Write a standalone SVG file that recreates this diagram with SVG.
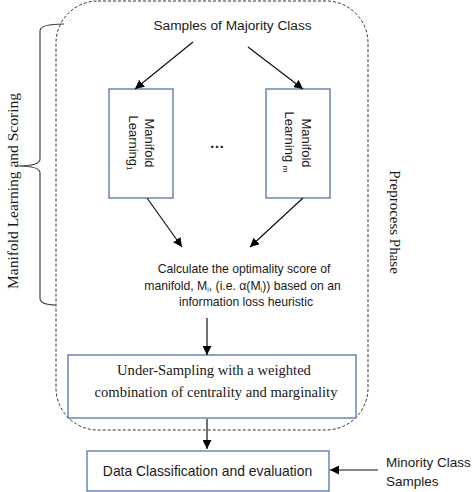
<svg xmlns="http://www.w3.org/2000/svg" width="474" height="492" viewBox="0 0 474 492">
<defs>
<marker id="ah" viewBox="0 0 10 10" refX="10" refY="5" markerWidth="9" markerHeight="9" markerUnits="userSpaceOnUse" orient="auto">
<path d="M0,0 L10,5 L0,10 z" fill="#000"/>
</marker>
<style>
.box{fill:#fff;stroke:#5572aa;stroke-width:1.3}
.sans{font-family:"Liberation Sans",Arial,sans-serif;fill:#1a1a1a}
.serif{font-family:"Liberation Serif","Times New Roman",serif;fill:#1a1a1a}
.conn{stroke:#111;stroke-width:1.2;fill:none}
</style>
</defs>
<rect width="474" height="492" fill="#fff"/>
<g id="preprocess-phase">
<rect x="56" y="1" width="312" height="429" rx="42" ry="42" fill="none" stroke="#333" stroke-width="1" stroke-dasharray="3,2"/>
<text class="serif" font-size="15" text-anchor="middle" transform="translate(390,222) rotate(90)">Preprocess Phase</text>
</g>
<g id="manifold-bracket">
<path d="M64 24 Q40 24 40 31 L40 159 Q40 166 18 166 Q40 166 40 173 L40 298 Q40 305 56 305" fill="none" stroke="#444" stroke-width="1.2"/>
<text class="serif" font-size="15.5" text-anchor="middle" transform="translate(18,191) rotate(-90)">Manifold Learning and Scoring</text>
</g>
<g id="samples-majority">
<text class="sans" x="232.5" y="30" font-size="13.7" text-anchor="middle">Samples of Majority Class</text>
</g>
<g id="manifold-1">
<rect class="box" x="109" y="89" width="64" height="109"/>
<text class="sans" font-size="13" text-anchor="middle" transform="translate(145,143) rotate(90)">Manifold</text>
<text class="sans" font-size="13" text-anchor="middle" transform="translate(129,143) rotate(90)">Learning<tspan font-size="8" dy="2">1</tspan></text>
</g>
<g id="ellipsis">
<text class="sans" x="217" y="148" font-size="15" font-weight="bold" text-anchor="middle">…</text>
</g>
<g id="manifold-m">
<rect class="box" x="266" y="89" width="64" height="109"/>
<text class="sans" font-size="13" text-anchor="middle" transform="translate(301.5,143) rotate(90)">Manifold</text>
<text class="sans" font-size="13" text-anchor="middle" transform="translate(285,142) rotate(90)">Learning <tspan font-size="8" dy="2">m</tspan></text>
</g>
<g id="optimality-score">
<text class="sans" x="244" y="273" font-size="12.2" text-anchor="middle">Calculate the optimality score of</text>
<text class="sans" x="242.5" y="290" font-size="12.2" text-anchor="middle">manifold, M<tspan font-size="7" dy="2">i</tspan><tspan dy="-2">, (i.e. α(M</tspan><tspan font-size="7" dy="2">i</tspan><tspan dy="-2">)) based on an</tspan></text>
<text class="sans" x="246" y="306" font-size="12.2" text-anchor="middle">information loss heuristic</text>
</g>
<g id="under-sampling">
<rect class="box" x="68" y="355" width="288" height="63"/>
<text class="serif" x="214" y="375" font-size="14.6" text-anchor="middle">Under-Sampling with a weighted</text>
<text class="serif" x="216" y="397" font-size="14.6" text-anchor="middle">combination of centrality and marginality</text>
</g>
<g id="data-classification">
<rect class="box" x="87" y="451" width="242" height="40"/>
<text class="sans" x="207.5" y="476" font-size="13.9" text-anchor="middle">Data Classification and evaluation</text>
</g>
<g id="minority-class">
<text class="sans" x="386" y="467" font-size="13.5">Minority Class</text>
<text class="sans" x="386" y="486" font-size="13.5">Samples</text>
</g>
<g id="connectors">
<line class="conn" x1="193" y1="42" x2="135" y2="89" marker-end="url(#ah)"/>
<line class="conn" x1="248" y1="47" x2="303" y2="89" marker-end="url(#ah)"/>
<line class="conn" x1="147" y1="198" x2="182" y2="247" marker-end="url(#ah)"/>
<line class="conn" x1="303" y1="198" x2="250" y2="247" marker-end="url(#ah)"/>
<line class="conn" x1="207" y1="318" x2="207" y2="355" marker-end="url(#ah)"/>
<line class="conn" x1="207" y1="419" x2="207" y2="449" marker-end="url(#ah)"/>
<line class="conn" x1="378" y1="470" x2="330" y2="470" marker-end="url(#ah)"/>
</g>
</svg>
